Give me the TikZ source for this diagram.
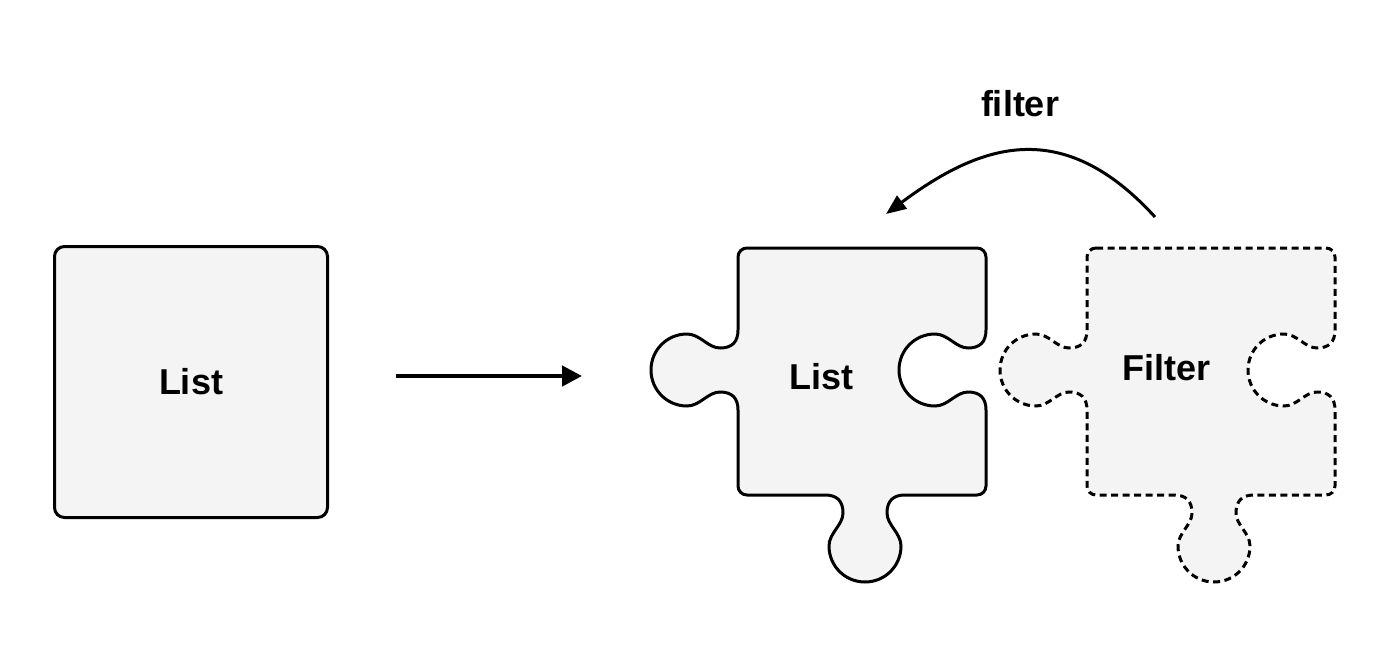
\documentclass[tikz,border=0pt]{standalone}
\usepackage{fontspec}
\setmainfont{Liberation Sans}
\usetikzlibrary{arrows.meta}
\definecolor{piecefill}{HTML}{F4F4F4}
\newcommand{\piecepath}{%
(9,0) -- (239,0) .. controls (244,0) and (248,4) .. (248,9)
-- (248,82)
.. controls (248,94) and (242,100) .. (230,100)
.. controls (218,100) and (210,86) .. (197,86)
.. controls (177,86) and (161,102) .. (161,122)
.. controls (161,142) and (177,158) .. (197,158)
.. controls (210,158) and (218,144) .. (230,144)
.. controls (242,144) and (248,150) .. (248,162)
-- (248,238) .. controls (248,243) and (244,247) .. (239,247)
-- (167,247)
.. controls (155,247) and (149,253) .. (149,265)
.. controls (149,277) and (163,285) .. (163,298)
.. controls (163,318) and (147,334) .. (127,334)
.. controls (107,334) and (91,318) .. (91,298)
.. controls (91,285) and (105,277) .. (105,265)
.. controls (105,253) and (99,247) .. (87,247)
-- (9,247) .. controls (4,247) and (0,243) .. (0,238)
-- (0,162)
.. controls (0,150) and (-6,144) .. (-18,144)
.. controls (-30,144) and (-38,158) .. (-51,158)
.. controls (-71,158) and (-87,142) .. (-87,122)
.. controls (-87,102) and (-71,86) .. (-51,86)
.. controls (-38,86) and (-30,100) .. (-18,100)
.. controls (-6,100) and (0,94) .. (0,82)
-- (0,9) .. controls (0,4) and (4,0) .. (9,0) -- cycle}
\tikzset{
  piece/.style={draw=black, fill=piecefill, line width=3pt, line join=round},
  dashedpiece/.style={piece, dash pattern=on 7pt off 4.5pt},
  lbl/.style={font=\fontsize{36}{43}\selectfont\bfseries, inner sep=0pt},
  boxnode/.style={draw=black, fill=piecefill, line width=3pt, rounded corners=10pt, minimum width=273pt, minimum height=271pt, inner sep=0pt},
  conn/.style={line width=3pt, -{Triangle[length=20pt,width=20pt]}},
}
\begin{document}
\begin{tikzpicture}[x=1pt,y=-1pt]
\useasboundingbox (0,0) rectangle (1400,656);
% left box
\node[boxnode, lbl] (box) at (191,382) {List};
% puzzle pieces
\begin{scope}[shift={(738,248)}]
  \draw[piece] \piecepath;
\end{scope}
\begin{scope}[shift={(1087,248)}]
  \draw[dashedpiece] \piecepath;
\end{scope}
\node[lbl] (list) at (821,377) {List};
\node[lbl] (filt) at (1166,368) {Filter};
\node[lbl] (ftxt) at (1020,104) {filter};
% straight arrow
\coordinate (a1) at (396,376);
\coordinate (a2) at (582,376);
\draw[conn, line width=4.5pt, -{Triangle[length=20pt,width=20pt]}] (a1) -- (a2);
% curved arrow
\coordinate (c1) at (1155,217);
\coordinate (c2) at (886,214);
\draw[conn, line width=3pt, -{Triangle[length=20pt,width=16pt]}] (c1) .. controls (1062,115) and (980,144) .. (c2);
\end{tikzpicture}
\end{document}
